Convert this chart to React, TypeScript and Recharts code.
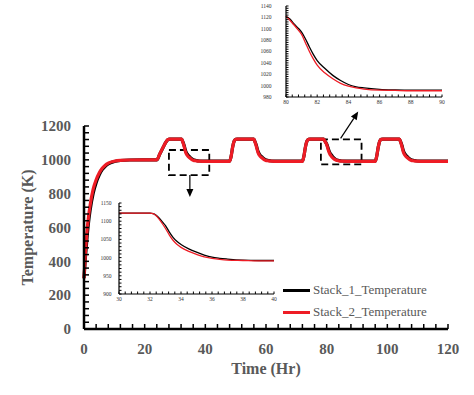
import React from 'react';
import { LineChart, Line, XAxis, YAxis, ReferenceArea, ReferenceLine, Legend } from 'recharts';

// main chart, hours vs. kelvin
const mainTime = [
  0, 0.5, 1, 1.5, 2, 3, 4, 5, 6, 7, 8, 10, 12, 15, 24, 25, 26, 27, 27.6, 28.2,
  32.2, 32.6, 33, 33.5, 34, 35, 36, 37, 38, 40,
  48, 48.5, 49, 49.5, 50, 50.5,
  56, 56.4, 56.8, 57.3, 57.8, 58.8, 59.8, 60.8, 61.8, 64,
  72, 72.5, 73, 73.5, 74, 74.5,
  79, 79.5, 80, 80.5, 81, 81.5, 82, 83, 84, 85, 88,
  96, 96.5, 97, 97.5, 98, 98.5,
  104, 104.4, 104.8, 105.3, 105.8, 106.8, 107.8, 108.8, 109.8, 112,
  120,
];
const mainStack1 = [
  300, 430, 540, 630, 700, 800, 865, 910, 942, 962, 976, 990, 996, 999, 1000, 1035, 1070, 1104, 1118, 1122,
  1122, 1106, 1086, 1053, 1035, 1015, 1001, 996, 993, 992,
  992, 1020, 1075, 1110, 1121, 1122,
  1122, 1106, 1087, 1054, 1035, 1015, 1001, 996, 993, 992,
  992, 1022, 1076, 1110, 1121, 1122,
  1122, 1109, 1094, 1068, 1044, 1030, 1018, 1002, 996, 993, 992,
  992, 1021, 1075, 1111, 1121, 1122,
  1122, 1106, 1086, 1053, 1035, 1015, 1001, 996, 993, 992,
  992,
];
const mainStack2 = [
  300, 460, 580, 665, 730, 825, 882, 922, 950, 968, 980, 992, 997, 999, 1000, 1036, 1071, 1105, 1119, 1122,
  1122, 1104, 1080, 1045, 1027, 1010, 998, 994, 992, 991,
  991, 1020, 1075, 1110, 1121, 1122,
  1122, 1104, 1080, 1046, 1027, 1010, 998, 994, 992, 991,
  991, 1022, 1076, 1110, 1121, 1122,
  1122, 1107, 1090, 1060, 1036, 1022, 1012, 999, 994, 992, 991,
  991, 1021, 1075, 1111, 1121, 1122,
  1122, 1104, 1080, 1045, 1027, 1010, 998, 994, 992, 991,
  991,
];

// zoom 30-40 hr
const inset1Time = [30, 31, 32, 32.2, 32.4, 32.6, 32.8, 33, 33.25, 33.5, 33.75, 34, 34.5, 35, 35.5, 36, 36.5, 37, 38, 39, 40];
const inset1Stack1 = [1122, 1122, 1122, 1121, 1116, 1108, 1098, 1088, 1070, 1055, 1044, 1036, 1024, 1015, 1007, 1001, 998, 996, 993, 992, 992];
const inset1Stack2 = [1122, 1122, 1122, 1121, 1115, 1105, 1093, 1080, 1062, 1047, 1036, 1028, 1017, 1009, 1002, 998, 995, 993, 992, 991, 991];

// zoom 80-90 hr
const inset2Time = [80, 80.25, 80.5, 80.75, 81, 81.25, 81.5, 81.75, 82, 82.5, 83, 83.5, 84, 84.5, 85, 86, 87, 88, 89, 90];
const inset2Stack1 = [1122, 1117, 1109, 1102, 1094, 1082, 1068, 1055, 1044, 1030, 1018, 1009, 1002, 998, 996, 993.5, 992.5, 992, 992, 992];
const inset2Stack2 = [1122, 1115, 1107, 1099, 1090, 1075, 1060, 1047, 1036, 1022, 1012, 1004, 999, 996, 994, 992, 991.5, 991, 991, 991];

const mainXLabels = [0, 20, 40, 60, 80, 100, 120];
const mainYLabels = [0, 200, 400, 600, 800, 1000, 1200];
const inset1XLabels = [30, 32, 34, 36, 38, 40];
const inset1YLabels = [900, 950, 1000, 1050, 1100, 1150];
const inset2XLabels = [80, 82, 84, 86, 88, 90];
const inset2YLabels = [980, 1000, 1020, 1040, 1060, 1080, 1100, 1120, 1140];

const series = [
  { key: 's1', name: 'Stack_1_Temperature', color: '#000000' },
  { key: 's2', name: 'Stack_2_Temperature', color: '#ee1c25' },
];

const FONT = "'Liberation Serif', 'Times New Roman', serif";
const GREY = '#595959';

const rows = (t: number[], a: number[], b: number[]) => t.map((x, i) => ({ t: x, s1: a[i], s2: b[i] }));
const mainData = rows(mainTime, mainStack1, mainStack2);
const inset1Data = rows(inset1Time, inset1Stack1, inset1Stack2);
const inset2Data = rows(inset2Time, inset2Stack1, inset2Stack2);

// minor ticks between the labelled ones
const steps = (from: number, to: number, step: number) => {
  const out: number[] = [];
  for (let v = from; v <= to + 1e-9; v += step) out.push(Math.round(v * 100) / 100);
  return out;
};
const onlyLabels = (labels: number[]) => (v: number) =>
  labels.some((l) => Math.abs(l - v) < 1e-6) ? String(v) : '';

const Arrow = (p: any) => {
  const { x1, y1, x2, y2 } = p;
  const a = Math.atan2(y2 - y1, x2 - x1);
  const L = 8;
  const W = 3.5;
  const bx = x2 - L * Math.cos(a);
  const by = y2 - L * Math.sin(a);
  const pts = `${x2},${y2} ${bx - W * Math.sin(a)},${by + W * Math.cos(a)} ${bx + W * Math.sin(a)},${by - W * Math.cos(a)}`;
  return (
    <g>
      <line x1={x1} y1={y1} x2={bx} y2={by} stroke="#000" strokeWidth={1.2} />
      <polygon points={pts} fill="#000" />
    </g>
  );
};

function LegendBox() {
  return (
    <div style={{ fontFamily: FONT }}>
      {series.map((s) => (
        <div key={s.key} style={{ display: 'flex', alignItems: 'center', height: 22 }}>
          <span style={{ display: 'inline-block', width: 27, height: 3, background: s.color, marginRight: 3 }} />
          <span style={{ fontSize: 13, color: GREY, whiteSpace: 'nowrap', fontFamily: FONT }}>{s.name}</span>
        </div>
      ))}
    </div>
  );
}

type InsetProps = {
  data: { t: number; s1: number; s2: number }[];
  left: number; top: number; width: number; height: number;
  xDomain: [number, number]; xLabels: number[]; xMinor: number;
  yDomain: [number, number]; yLabels: number[]; yMinor: number;
  yWidth: number; yMargin: number;
  margin: { top: number; right: number; bottom: number; left: number };
};

function Inset(p: InsetProps) {
  const tickStyle = { fontSize: 5.5, fill: '#333', fontFamily: FONT };
  return (
    <div style={{ position: 'absolute', left: p.left, top: p.top }}>
      <LineChart width={p.width} height={p.height} data={p.data} margin={p.margin}>
        <XAxis
          dataKey="t" type="number" domain={p.xDomain} ticks={steps(p.xDomain[0], p.xDomain[1], p.xMinor)}
          interval={0} tickFormatter={onlyLabels(p.xLabels)} tickSize={-2.5} tickMargin={6}
          height={12} tick={tickStyle} axisLine={{ stroke: '#000', strokeWidth: 1.2 }} tickLine={{ stroke: '#000' }}
        />
        <XAxis xAxisId="top" orientation="top" dataKey="t" type="number" domain={p.xDomain} height={0}
          tick={false} tickLine={false} axisLine={{ stroke: '#000', strokeWidth: 1 }} />
        <YAxis
          type="number" domain={p.yDomain} ticks={steps(p.yDomain[0], p.yDomain[1], p.yMinor)}
          interval={0} tickFormatter={onlyLabels(p.yLabels)} tickSize={-2.5} tickMargin={p.yMargin}
          width={p.yWidth} tick={tickStyle} axisLine={{ stroke: '#000', strokeWidth: 1.2 }} tickLine={{ stroke: '#000' }}
        />
        <YAxis yAxisId="right" orientation="right" domain={p.yDomain} width={0}
          tick={false} tickLine={false} axisLine={{ stroke: '#000', strokeWidth: 1 }} />
        {series.map((s) => (
          <Line key={s.key} dataKey={s.key} name={s.name} type="monotone" stroke={s.color}
            strokeWidth={1.3} dot={false} isAnimationActive={false} />
        ))}
      </LineChart>
    </div>
  );
}

export default function App() {
  const tickStyle = { fontSize: 15, fontWeight: 'bold', fill: GREY, fontFamily: FONT };
  return (
    <div style={{ position: 'absolute', left: 0, top: 0, width: 474, height: 395, background: '#fff' }}>
      <LineChart width={474} height={395} data={mainData} margin={{ top: 126, right: 26, bottom: 16, left: 24 }}>
        <XAxis
          dataKey="t" type="number" domain={[0, 120]} ticks={steps(0, 120, 4)} interval={0}
          tickFormatter={onlyLabels(mainXLabels)} tickSize={-5} tickMargin={19} height={50}
          tick={tickStyle} axisLine={{ stroke: '#000', strokeWidth: 2.5 }} tickLine={{ stroke: '#000', strokeWidth: 1.5 }}
          label={{
            content: ({ viewBox }: any) => (
              <text x={viewBox.x + viewBox.width / 2} y={viewBox.y + 45} textAnchor="middle"
                fontSize={16} fontWeight="bold" fill={GREY} fontFamily={FONT}>Time (Hr)</text>
            ),
          }}
        />
        <XAxis xAxisId="top" orientation="top" dataKey="t" type="number" domain={[0, 120]} height={0}
          tick={false} tickLine={false} axisLine={{ stroke: '#000', strokeWidth: 2.5 }} />
        <YAxis
          type="number" domain={[0, 1200]} ticks={steps(0, 1200, 40)} interval={0}
          tickFormatter={onlyLabels(mainYLabels)} tickSize={-5} tickMargin={18} width={60}
          tick={tickStyle} axisLine={{ stroke: '#000', strokeWidth: 2.5 }} tickLine={{ stroke: '#000', strokeWidth: 1.5 }}
          label={{
            content: ({ viewBox }: any) => {
              const x = viewBox.x + 3;
              const y = viewBox.y + viewBox.height / 2;
              return (
                <text x={x} y={y} transform={`rotate(-90 ${x} ${y})`} textAnchor="middle" dominantBaseline="central"
                  fontSize={16} fontWeight="bold" fill={GREY} fontFamily={FONT}>Temperature (K)</text>
              );
            },
          }}
        />
        <YAxis yAxisId="right" orientation="right" domain={[0, 1200]} width={0}
          tick={false} tickLine={false} axisLine={{ stroke: '#000', strokeWidth: 2.5 }} />
        {series.map((s) => (
          <Line key={s.key} dataKey={s.key} name={s.name} type="monotone" stroke={s.color}
            strokeWidth={3.2} dot={false} isAnimationActive={false} />
        ))}
        <ReferenceArea x1={28} x2={41.3} y1={910} y2={1058} fill="none" stroke="#000"
          strokeWidth={1.8} strokeDasharray="7 4" ifOverflow="visible" />
        <ReferenceArea x1={78.1} x2={91.5} y1={973} y2={1121} fill="none" stroke="#000"
          strokeWidth={1.8} strokeDasharray="7 4" ifOverflow="visible" />
        <ReferenceLine segment={[{ x: 34.9, y: 910 }, { x: 34.9, y: 780 }]} ifOverflow="visible" shape={Arrow} />
        <ReferenceLine segment={[{ x: 84.6, y: 1127 }, { x: 90.4, y: 1285 }]} ifOverflow="visible" shape={Arrow} />
        <Legend layout="horizontal" verticalAlign="middle" align="center"
          wrapperStyle={{ left: 283, top: 279, width: 170, height: 44 }} content={() => <LegendBox />} />
      </LineChart>
      <Inset
        data={inset1Data} left={95} top={198} width={185} height={110}
        xDomain={[30, 40]} xLabels={inset1XLabels} xMinor={0.4}
        yDomain={[900, 1150]} yLabels={inset1YLabels} yMinor={10}
        yWidth={24} yMargin={10} margin={{ top: 5, right: 6, bottom: 2, left: 0 }}
      />
      <Inset
        data={inset2Data} left={256} top={0} width={192} height={112}
        xDomain={[80, 90]} xLabels={inset2XLabels} xMinor={0.4}
        yDomain={[980, 1140]} yLabels={inset2YLabels} yMinor={4}
        yWidth={30} yMargin={17} margin={{ top: 6, right: 6, bottom: 3, left: 0 }}
      />
    </div>
  );
}
